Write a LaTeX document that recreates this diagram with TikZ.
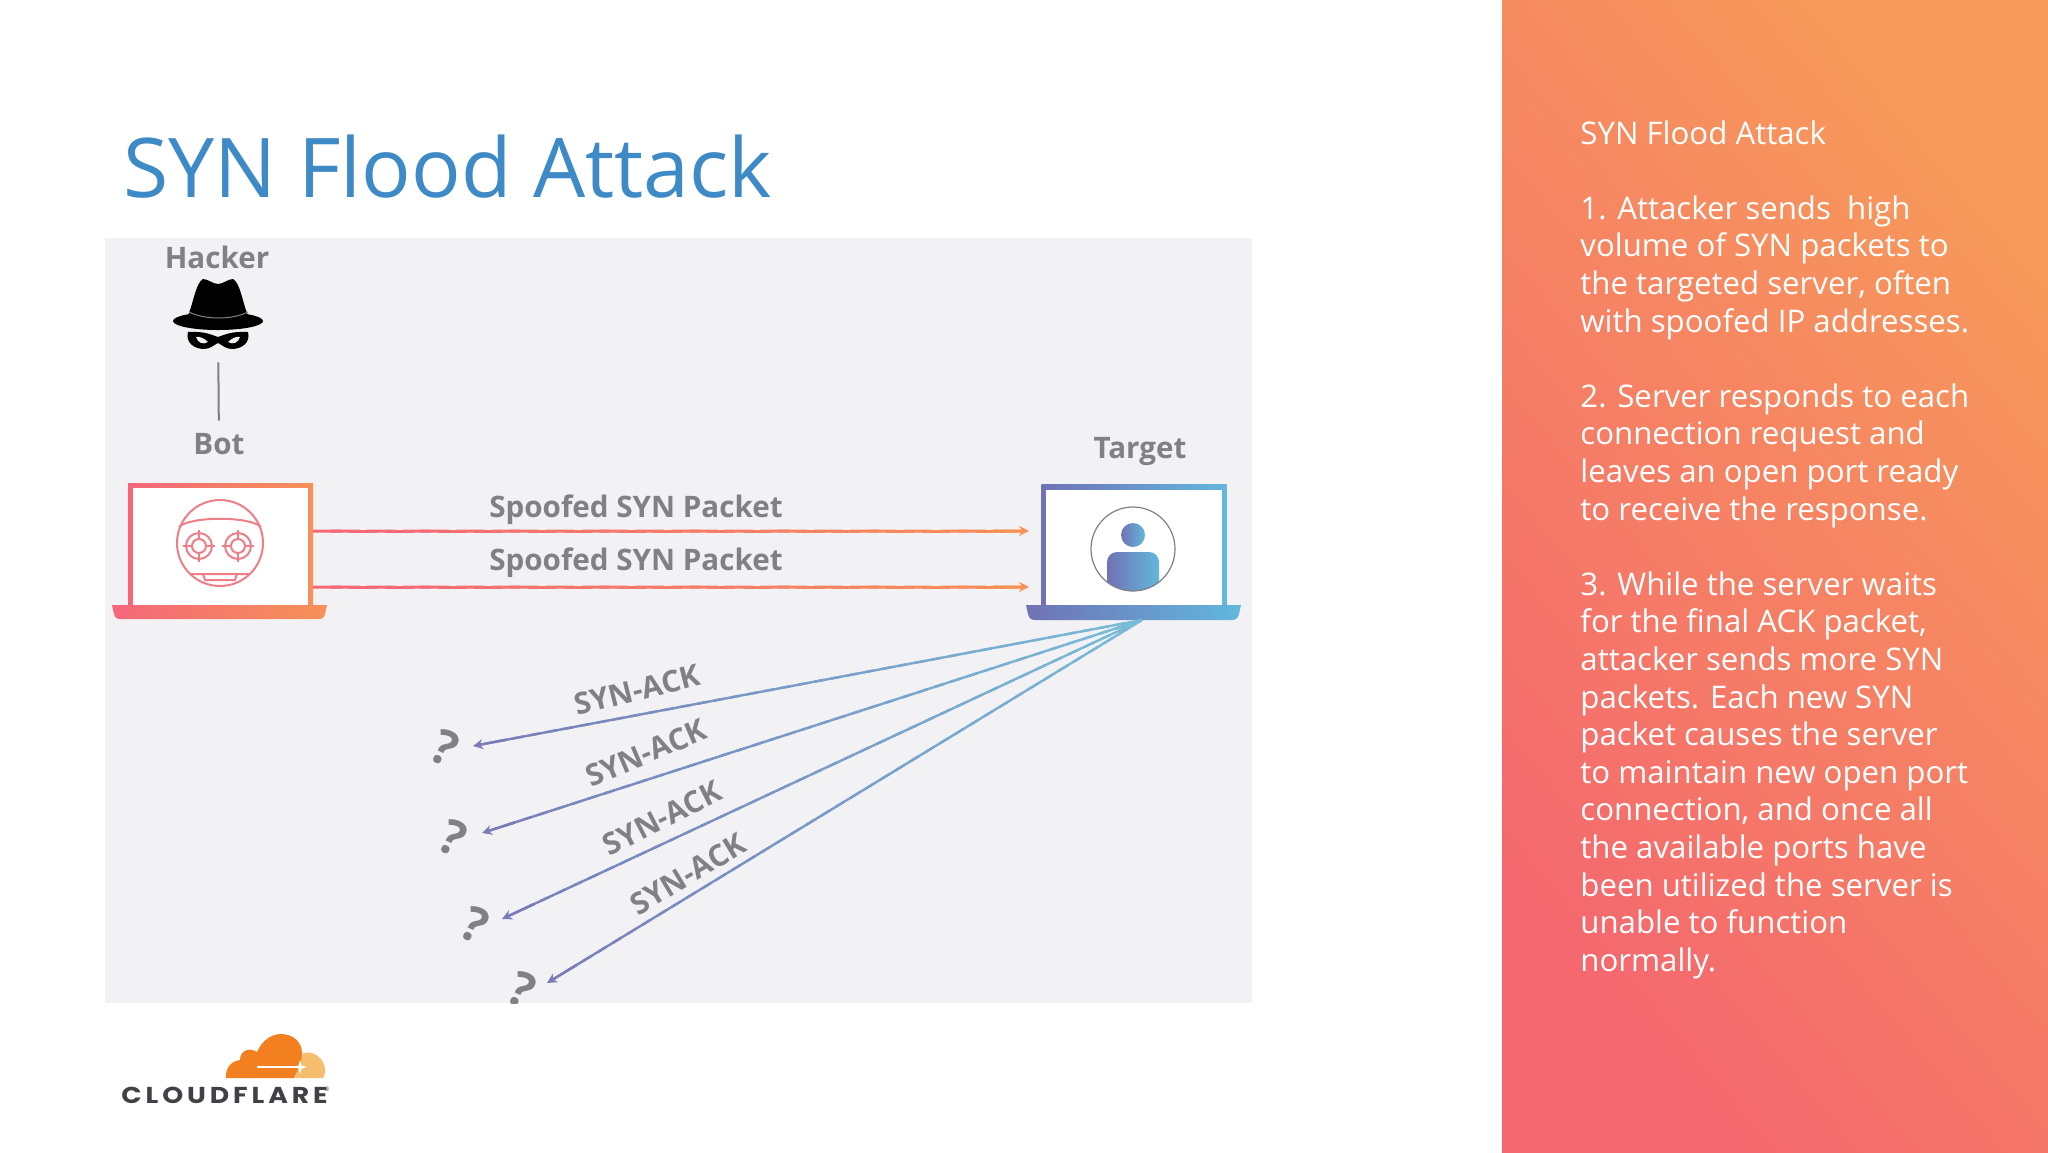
\documentclass[tikz,border=0pt]{standalone}
\usepackage{fontspec}
\setmainfont{Open Sans}
\newfontfamily\logofont[LetterSpace=17,FakeStretch=1.16]{Poppins}
\usetikzlibrary{arrows.meta,calc,positioning}
\definecolor{panelgrey}{HTML}{F2F2F4}
\definecolor{labelgrey}{HTML}{808085}
\definecolor{titleblue}{HTML}{3E8AC6}
\definecolor{botpink}{HTML}{F4677A}
\definecolor{botorange}{HTML}{F79157}
\definecolor{tgtpurple}{HTML}{7072B4}
\definecolor{tgtblue}{HTML}{62B8DC}
\definecolor{fanpurple}{HTML}{7A7CB8}
\definecolor{fanblue}{HTML}{78BCD8}
\definecolor{facepink}{HTML}{EC7F88}
\definecolor{cfdark}{HTML}{404047}
\definecolor{cforange}{HTML}{F38020}
\definecolor{cflight}{HTML}{F5BE6E}
\definecolor{sidetop}{HTML}{F79A5A}
\definecolor{sidemid}{HTML}{F77D69}
\definecolor{sidebot}{HTML}{F4676F}
\tikzset{
  lbl/.style={font=\bfseries\fontsize{14.8}{18}\selectfont,text=labelgrey,inner sep=0pt},
  synack/.style={lbl,font=\bfseries\fontsize{15}{17}\selectfont},
  qmark/.style={lbl,font=\bfseries\fontsize{24}{26}\selectfont,rotate=-25},
  screen/.style={shade,minimum width=92.5pt,minimum height=62pt,inner sep=0pt,outer sep=0pt},
  facel/.style={draw=facepink,line width=1pt},
}
% gradient connector: #2 from, #3 to, #4 start colour, #5 end colour
\newcommand{\gradarrow}[5][1.2pt]{%
  \foreach \i [evaluate=\i as \p using {100-\i*100/40},evaluate=\i as \ta using {\i/40},evaluate=\i as \tb using {(\i+1.6)/40}] in {0,...,38}{%
    \draw[line width=#1,color=#4!\p!#5] ($(#2)!\ta!(#3)$) -- ($(#2)!\tb!(#3)$);}
  \draw[line width=#1,color=#5,-{Stealth[length=5pt,width=5pt]}] ($(#2)!0.95!(#3)$) -- (#3);
}
\begin{document}
\begin{tikzpicture}[x=0.5pt,y=-0.5pt]
\useasboundingbox (0,0) rectangle (2048,1152);
\fill[white] (0,0) rectangle (2048,1152);
% right panel
\shade[top color=sidetop,middle color=sidemid,bottom color=sidebot,shading angle=-50] (1502,0) rectangle (2048,1152);
\node[anchor=north west,inner sep=0pt,text=white,align=left,font=\fontsize{15.6}{18.8}\selectfont] (body) at (1580,120) {SYN Flood Attack\\[18.8pt]
1. Attacker sends\ \ high\\volume of SYN packets to\\the targeted server, often\\with spoofed IP addresses.\\[18.8pt]
2. Server responds to each\\connection request and\\leaves an open port ready\\to receive the response.\\[18.8pt]
3. While the server waits\\for the final ACK packet,\\attacker sends more SYN\\packets. Each new SYN\\packet causes the server\\to maintain new open port\\connection, and once all\\the available ports have\\been utilized the server is\\unable to function\\normally.};
% title
\node[anchor=base west,inner sep=0pt,text=titleblue,font=\fontsize{41.2}{48}\selectfont] (title) at (123,197) {SYN Flood Attack};
% grey diagram area
\fill[panelgrey] (105,238) rectangle (1252,1003);
% hacker icon
\node[minimum width=45pt,minimum height=40pt,inner sep=0pt] (hacker) at (218,322) {};
\fill[black] (188,316) .. controls (194,300) and (196,283) .. (203,279) .. controls (208,279) and (213,284) .. (218,284) .. controls (223,284) and (228,279) .. (233,279) .. controls (240,283) and (242,300) .. (248,316) -- cycle;
\fill[black] (218,321) ellipse (45 and 9);
\draw[labelgrey,line width=0.5pt] (189,312) .. controls (205,320) and (232,320) .. (248,312);
\fill[black] (188,332) .. controls (205,331) and (212,335) .. (218,337) .. controls (224,335) and (231,331) .. (248,332) .. controls (251,343) and (241,349) .. (232,349) .. controls (226,349) and (222,345) .. (218,343) .. controls (214,345) and (210,349) .. (204,349) .. controls (195,349) and (185,343) .. (188,332) -- cycle;
\fill[panelgrey] (196,337) .. controls (200,336) and (205,339) .. (208,342) .. controls (203,345) and (198,343) .. (196,337) -- cycle;
\fill[panelgrey] (240,337) .. controls (236,336) and (231,339) .. (228,342) .. controls (233,345) and (238,343) .. (240,337) -- cycle;
% labels
\node[lbl] (hackerlbl) at (217,257) {Hacker};
\node[lbl,minimum height=23pt] (botlbl) at (219,444) {Bot};
\node[lbl] (tgtlbl) at (1140,451) {Target};
\draw[labelgrey,line width=1pt] (hacker) -- (botlbl);
% bot laptop
\node[screen,left color=botpink,right color=botorange] (botscreen) at (220.5,545) {};
\fill[white] (133,488) rectangle (308,606);
\shade[left color=botpink,right color=botorange] (112,605) -- (327,605) -- (325,614) .. controls (324,618) and (322,619) .. (318,619) -- (121,619) .. controls (117,619) and (115,618) .. (114,614) -- cycle;
\draw[facel] (220,543) circle (43);
\draw[facel] (199,546) circle (13) (199,546) circle (7) (238,546) circle (13) (238,546) circle (7);
\foreach \cx in {199,238}{
  \draw[facel,line width=0.6pt] (\cx-16,546) -- (\cx-6,546) (\cx+6,546) -- (\cx+16,546) (\cx,530) -- (\cx,540) (\cx,552) -- (\cx,562);}
\draw[facel] (179,527) .. controls (190,516) and (250,516) .. (261,527);
\draw[facel] (190,574) -- (250,574) (203,574) -- (205,580) -- (235,580) -- (237,574);
% target laptop
\node[screen,left color=tgtpurple,right color=tgtblue] (tgtscreen) at (1134,546) {};
\fill[white] (1046,490) rectangle (1222,606);
\shade[left color=tgtpurple,right color=tgtblue] (1026,605) -- (1241,605) -- (1239,614) .. controls (1238,618) and (1236,620) .. (1232,620) -- (1035,620) .. controls (1031,620) and (1029,618) .. (1028,614) -- cycle;
\begin{scope}
  \clip (1133,549) circle (42);
  \shade[left color=tgtpurple,right color=tgtblue,rounded corners=5pt] (1107,552) rectangle (1159,600);
\end{scope}
\shade[left color=tgtpurple,right color=tgtblue] (1133,535) circle (12);
\draw[labelgrey,line width=0.6pt] (1133,549) circle (42);
% spoofed packets
\coordinate (s1) at (313,531);
\coordinate (e1) at (1029,531);
\coordinate (s2) at (313,587);
\coordinate (e2) at (1029,587);
\gradarrow[1.5pt]{s1}{e1}{botpink}{botorange}
\gradarrow[1.5pt]{s2}{e2}{botpink}{botorange}
\node[lbl] (p1) at (636,510) {Spoofed SYN Packet};
\node[lbl] (p2) at (636,563) {Spoofed SYN Packet};
% syn-ack fan
\coordinate (hub) at (1142,620);
\coordinate (t1) at (473,746);
\coordinate (t2) at (482,833);
\coordinate (t3) at (502,919);
\coordinate (t4) at (547,983);
\gradarrow{hub}{t1}{fanblue}{fanpurple}
\gradarrow{hub}{t2}{fanblue}{fanpurple}
\gradarrow{hub}{t3}{fanblue}{fanpurple}
\gradarrow{hub}{t4}{fanblue}{fanpurple}
\node[synack,rotate=14] (a1) at (637,690) {SYN-ACK};
\node[synack,rotate=23] (a2) at (646,753) {SYN-ACK};
\node[synack,rotate=27] (a3) at (662,818) {SYN-ACK};
\node[synack,rotate=31] (a4) at (688,874) {SYN-ACK};
\begin{scope}
  \clip (105,238) rectangle (1252,1003);
  \node[qmark] (q1) at (445,748) {?};
  \node[qmark] (q2) at (453,838) {?};
  \node[qmark] (q3) at (475,925) {?};
  \node[qmark] (q4) at (522,990) {?};
\end{scope}
% cloudflare logo
\fill[cflight] (303,1053) .. controls (315,1050) and (325,1060) .. (325,1070) .. controls (325,1074) and (324,1076) .. (323,1078) -- (295,1078) -- cycle;
\fill[cforange] (226,1078) .. controls (225,1070) and (230,1061) .. (240,1060) .. controls (240,1050) and (250,1047) .. (257,1052) .. controls (262,1040) and (272,1034) .. (281,1034) .. controls (293,1034) and (302,1042) .. (302,1053) .. controls (302,1062) and (298,1070) .. (294,1078) -- cycle;
\draw[white,line width=0.7pt] (257,1067) -- (296,1067);
\fill[white] (300,1060) -- (301.5,1065.5) -- (307,1067) -- (301.5,1068.5) -- (300,1074) -- (298.5,1068.5) -- (293,1067) -- (298.5,1065.5) -- cycle;
\node[anchor=base west,inner sep=0pt,text=cfdark,font=\logofont\bfseries\fontsize{11.5}{13}\selectfont] (cf) at (121,1103) {CLOUDFLARE};
\node[anchor=west,inner sep=0pt,text=cfdark,font=\fontsize{3}{3}\selectfont] (reg) at (324,1089) {®};
\end{tikzpicture}
\end{document}
